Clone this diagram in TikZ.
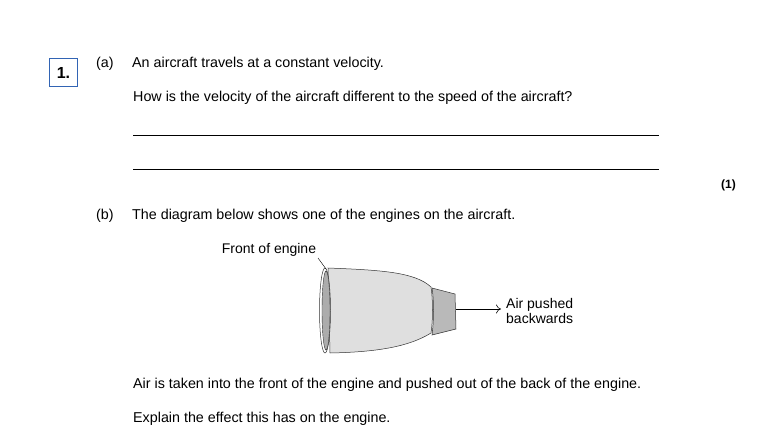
\documentclass[tikz,border=0pt]{standalone}
\usepackage{fontspec}
\setmainfont{Liberation Sans}
\usetikzlibrary{arrows.meta}
\definecolor{qblue}{RGB}{50,100,180}
\begin{document}
\begin{tikzpicture}[x=1pt,y=-1pt,font=\fontsize{14.3}{16}\selectfont,
  txt/.style={anchor=west,inner sep=0pt}]
\useasboundingbox (0,0) rectangle (784,441);
\node[draw=qblue,line width=1.4pt,minimum width=28pt,minimum height=28pt,inner sep=0pt,font=\bfseries\fontsize{16}{18}\selectfont] (q) at (63.5,72.5) {1.};
\node[txt] (a) at (96,64) {(a)};
\node[txt] (ta) at (132,64) {An aircraft travels at a constant velocity.};
\node[txt] (tq) at (133,98) {How is the velocity of the aircraft different to the speed of the aircraft?};
\coordinate (l1a) at (133,135); \coordinate (l1b) at (659,135);
\coordinate (l2a) at (133,169); \coordinate (l2b) at (659,169);
\draw[line width=0.6pt] (l1a) -- (l1b); \draw[line width=0.6pt] (l2a) -- (l2b);
\node[txt,font=\bfseries\fontsize{12}{13}\selectfont] (m) at (721,185) {(1)};
\node[txt] (b) at (96,216) {(b)};
\node[txt] (tb) at (132,216) {The diagram below shows one of the engines on the aircraft.};
% engine
\fill[gray!25,draw=black!80,line width=0.5pt] (328,268) .. controls (380,270) and (415,272) .. (431,287)
  .. controls (433,300) and (433,320) .. (431,333)
  .. controls (410,346) and (380,352) .. (330,353) -- cycle;
\fill[gray!55,draw=black!80,line width=0.5pt] (432,288) -- (455,294) -- (456,329) -- (432,335) .. controls (434,320) and (434,300) .. (432,288) -- cycle;
\draw[fill=white,draw=black!80,line width=0.5pt] (325,310.5) ellipse (5.5 and 42.5);
\fill[gray!65,draw=black!80,line width=0.4pt] (326,310.5) ellipse (4 and 39.5);
\node[inner sep=0pt,font=\fontsize{14}{16}\selectfont] (f) at (269,250) {Front of engine};
\coordinate (fl) at (318,258); \coordinate (fe) at (326,269);
\draw[line width=0.4pt] (fl) -- (fe);
\coordinate (ns) at (456,309);
\node[txt,align=left,font=\fontsize{14}{15}\selectfont] (air) at (506,311) {Air pushed\\backwards};
\draw[line width=0.6pt,-{To[length=5pt,width=9pt]}] (ns) -- ([xshift=-5pt]air.west |- ns);
\node[txt] (t3) at (133,385) {Air is taken into the front of the engine and pushed out of the back of the engine.};
\node[txt] (t4) at (133,419) {Explain the effect this has on the engine.};
\end{tikzpicture}
\end{document}
